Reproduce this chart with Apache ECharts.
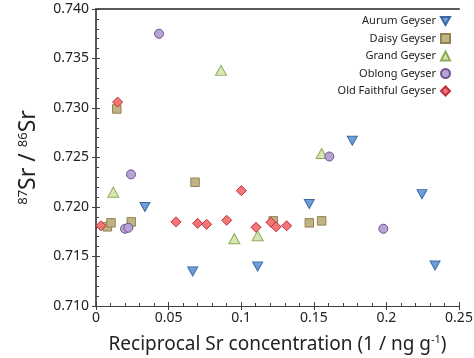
<!DOCTYPE html>
<html><head><meta charset="utf-8">
<script src="https://cdn.jsdelivr.net/npm/echarts@6/dist/echarts.min.js"></script>
<style>html,body{margin:0;padding:0;background:#fff}#c{width:474px;height:358px}</style>
</head><body><div id="c"></div>
<script>
const seriesNames = ['Aurum Geyser','Daisy Geyser','Grand Geyser','Oblong Geyser','Old Faithful Geyser'];
const aurumX = [0.0337, 0.0666, 0.1113, 0.1469, 0.1765, 0.2245, 0.2335];
const aurumY = [0.7200, 0.7135, 0.7140, 0.7203, 0.7267, 0.7213, 0.7141];
const daisyX = [0.0078, 0.0103, 0.0143, 0.0243, 0.0682, 0.1221, 0.1469, 0.1554];
const daisyY = [0.7180, 0.7184, 0.7299, 0.7185, 0.7225, 0.7186, 0.7184, 0.7186];
const grandX = [0.0119, 0.0861, 0.0953, 0.1113, 0.1554];
const grandY = [0.7215, 0.7338, 0.7168, 0.7171, 0.7254];
const oblongX = [0.0200, 0.0223, 0.0241, 0.0434, 0.1607, 0.1979];
const oblongY = [0.7178, 0.7179, 0.7233, 0.7375, 0.7251, 0.7178];
const oldX = [0.0034, 0.0149, 0.0551, 0.0700, 0.0762, 0.0900, 0.1001, 0.1102, 0.1205, 0.1240, 0.1313];
const oldY = [0.7181, 0.7306, 0.7185, 0.71835, 0.71825, 0.71866, 0.72165, 0.71795, 0.71845, 0.7180, 0.7181];
const xTickLabels = ['0','0.05','0.1','0.15','0.2','0.25'];
const yTickLabels = ['0.710','0.715','0.720','0.725','0.730','0.735','0.740'];

const pairs = (xs, ys) => xs.map((x, i) => [x, ys[i]]);
const FONT = 'Noto Sans';
const axisColor = '#404040';

const chart = echarts.init(document.getElementById('c'), null, {renderer: 'canvas'});
const baseX = {type: 'value', min: 0, max: 0.25, interval: 0.05, position: 'bottom', splitLine: {show: false}, gridIndex: 0};
const baseY = {type: 'value', min: 0.71, max: 0.74, interval: 0.005, position: 'left', splitLine: {show: false}, gridIndex: 0};
const downTri = 'path://M0,0 L10,0 L5,8.7 Z';

function sc(name, data, symbol, size, fill, border) {
  return {
    name, type: 'scatter', data, symbol, symbolSize: size, xAxisIndex: 0, yAxisIndex: 0,
    itemStyle: {color: fill, borderColor: border, borderWidth: 1, opacity: 1},
    emphasis: {disabled: true}
  };
}

chart.setOption({
  animation: false,
  backgroundColor: '#fff',
  textStyle: {fontFamily: FONT},
  grid: {left: 96, top: 9, right: 15, bottom: 52, containLabel: false, outerBoundsMode: 'none'},
  legend: {
    orient: 'vertical', right: 18, top: 10, align: 'right', padding: 5,
    itemWidth: 9, itemHeight: 9, itemGap: 5.5,
    textStyle: {fontFamily: FONT, fontSize: 11, color: '#222', lineHeight: 12},
    data: seriesNames
  },
  xAxis: [
    Object.assign({}, baseX, {
      axisLine: {show: true, lineStyle: {color: axisColor, width: 1}},
      axisTick: {show: true, inside: true, length: 4, lineStyle: {color: axisColor}},
      minorTick: {show: true, splitNumber: 5, length: 3, lineStyle: {color: axisColor}},
      axisLabel: {show: true, margin: 5, fontFamily: FONT, fontSize: 14, color: '#222',
        formatter: (v) => xTickLabels[Math.round(v / 0.05)]},
      name: '{t|Reciprocal Sr concentration (1 / ng g}{s|-1}{t|)}',
      nameLocation: 'middle', nameGap: 28,
      nameTextStyle: {rich: {t: {fontFamily: FONT, fontSize: 19, color: '#222', verticalAlign: 'bottom'},
                             s: {fontFamily: FONT, fontSize: 11, color: '#222', verticalAlign: 'top', padding: [0,0,9,0]}}}
    }),
    Object.assign({}, baseX, {
      axisLine: {show: false},
      axisTick: {show: true, inside: false, length: 4, lineStyle: {color: axisColor}},
      axisLabel: {show: false}
    }),
    Object.assign({}, baseX, {
      position: 'top',
      axisLine: {show: true, lineStyle: {color: '#595959', width: 2}},
      axisTick: {show: false}, axisLabel: {show: false}
    })
  ],
  yAxis: [
    Object.assign({}, baseY, {
      axisLine: {show: true, lineStyle: {color: axisColor, width: 1}},
      axisTick: {show: true, inside: true, length: 4, lineStyle: {color: axisColor}},
      minorTick: {show: true, splitNumber: 5, length: 3, lineStyle: {color: axisColor}},
      axisLabel: {show: true, margin: 7, fontFamily: FONT, fontSize: 14, color: '#222',
        formatter: (v) => yTickLabels[Math.round((v - 0.71) / 0.005)]},
      name: '{s|87}{t|Sr / }{s|86}{t|Sr}',
      nameLocation: 'middle', nameGap: 56, nameRotate: 90,
      nameTextStyle: {rich: {t: {fontFamily: FONT, fontSize: 23, color: '#222', verticalAlign: 'bottom'},
                             s: {fontFamily: FONT, fontSize: 13, color: '#222', verticalAlign: 'top', padding: [0,0,10,0]}}}
    }),
    Object.assign({}, baseY, {
      axisLine: {show: false},
      axisTick: {show: true, inside: false, length: 4, lineStyle: {color: axisColor}},
      axisLabel: {show: false}
    }),
    Object.assign({}, baseY, {
      position: 'right',
      axisLine: {show: true, lineStyle: {color: '#595959', width: 2}},
      axisTick: {show: false}, axisLabel: {show: false}
    })
  ],
  series: [
    sc('Aurum Geyser', pairs(aurumX, aurumY), downTri, [10, 9], '#6c9fdc', '#3d68a3'),
    sc('Daisy Geyser', pairs(daisyX, daisyY), 'rect', 8.5, '#c2b386', '#928352'),
    sc('Grand Geyser', pairs(grandX, grandY), 'triangle', [11, 10], '#d8e6b4', '#8fab57'),
    sc('Oblong Geyser', pairs(oblongX, oblongY), 'circle', 9, '#b8a2d6', '#6f5690'),
    sc('Old Faithful Geyser', pairs(oldX, oldY), 'diamond', [10, 10], '#f27676', '#c0303c')
  ]
});
</script></body></html>
